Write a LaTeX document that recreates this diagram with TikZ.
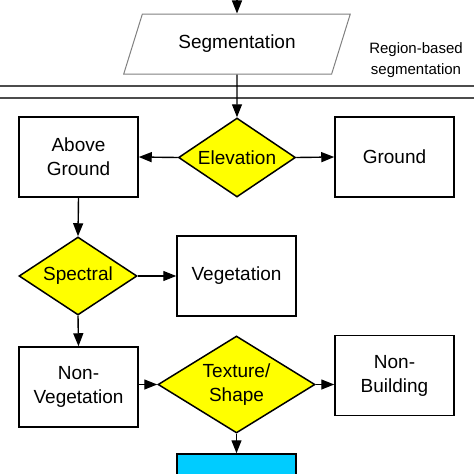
\documentclass[tikz,border=0pt]{standalone}
\usepackage{fontspec}
\setmainfont{Liberation Sans}
\usetikzlibrary{shapes.geometric, arrows.meta}

\definecolor{decisionyellow}{RGB}{255,255,0}
\definecolor{buildingcyan}{RGB}{0,204,255}

\tikzset{
    box/.style={draw, line width=1.5pt, minimum width=119pt, minimum height=80pt, align=center, inner sep=2pt},
    decision/.style={diamond, draw, line width=1.5pt, fill=decisionyellow, inner sep=0pt, align=center},
    arr/.style={line width=1.4pt, -{Triangle[length=13pt, width=10pt]}}
}

\begin{document}
\begin{tikzpicture}[x=1pt, y=-1pt, font=\fontsize{19}{24}\selectfont]
                \useasboundingbox (0,0) rectangle (474,474);
                \clip (0,0) rectangle (474,474);

                % Segmentation step:
                \coordinate (in) at (237,0);
                \node[trapezium, trapezium left angle=63.4, trapezium right angle=116.6, trapezium stretches,
                      draw=gray, line width=1pt, minimum width=227pt, minimum height=60pt] (seg) at (237,44) {Segmentation};
                \node[align=center, font=\fontsize{15}{21}\selectfont] (region) at (416,60) {Region-based\\segmentation};

                % Separator:
                \draw[line width=1.5pt, color=gray!60!black] (0,86) -- (474,86);
                \draw[line width=1.5pt, color=gray!60!black] (0,98) -- (474,98);

                % Classification:
                \node[decision, aspect=1.48, minimum width=117pt, minimum height=79pt] (elev) at (237,157.5) {Elevation};
                \node[box] (above) at (78.5,157) {Above\\Ground};
                \node[box] (ground) at (394.5,157) {Ground};
                \node[decision, aspect=1.51, minimum width=118pt, minimum height=78pt] (spec) at (78,276) {Spectral};
                \node[box] (veg) at (236.5,276) {Vegetation};
                \node[box] (nonveg) at (78.5,387) {Non-\\Vegetation};
                \node[decision, aspect=1.62, minimum width=157pt, minimum height=97pt] (tex) at (236.5,384.5) {Texture/\\Shape};
                \node[box] (nonbld) at (394.5,375.5) {Non-\\Building};
                \node[box, fill=buildingcyan] (bld) at (236.5,494) {};

                % Arrows:
                \draw[arr] (in) -- (seg);
                \draw[arr] (seg.south) -- (elev.north);
                \draw[arr] (elev.west) -- (above.east);
                \draw[arr] (elev.east) -- (ground.west);
                \draw[arr] (above.south) -- (spec.north);
                \draw[arr] (spec.east) -- (veg.west);
                \draw[arr] (spec.south) -- (nonveg.north);
                \draw[arr] (tex.west -| nonveg.east) -- (tex.west);
                \draw[arr] (tex.east) -- (tex.east -| nonbld.west);
                \draw[arr] (tex.south) -- (bld.north);
            \end{tikzpicture}
\end{document}
